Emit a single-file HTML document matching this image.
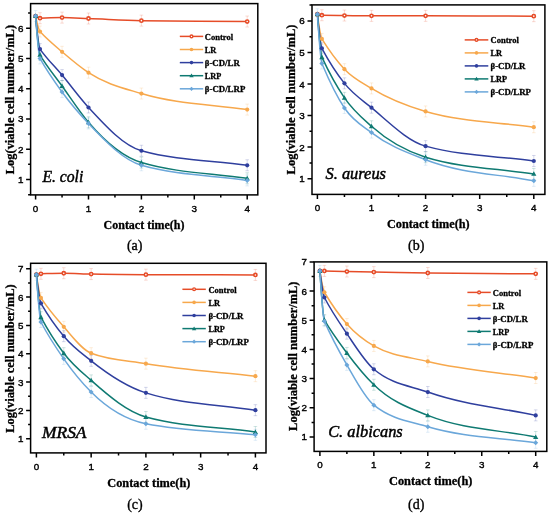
<!DOCTYPE html>
<html><head><meta charset="utf-8"><style>
html,body{margin:0;padding:0;background:#fff;width:550px;height:514px;overflow:hidden}
svg{display:block;will-change:transform}
.tl{font-family:"Liberation Sans",sans-serif;font-size:9.8px;fill:#000;stroke:#000;stroke-width:0.4px}
.lg{font-family:"Liberation Serif",serif;font-size:9.2px;font-weight:bold;fill:#000;stroke:#000;stroke-width:0.3px}
.al{font-family:"Liberation Serif",serif;font-size:12.2px;font-weight:bold;fill:#000;stroke:#000;stroke-width:0.3px}
.cap{font-family:"Liberation Serif",serif;font-size:14px;fill:#000;stroke:#000;stroke-width:0.35px}
.sp{font-family:"Liberation Serif",serif;font-size:16px;font-style:italic;fill:#000;stroke:#000;stroke-width:0.45px}
</style></head><body>
<svg width="550" height="514" viewBox="0 0 550 514">
<rect width="550" height="514" fill="#fff"/>
<path d="M39.99,12.71 V23.71 M38.19,12.71 H41.79 M38.19,23.71 H41.79" stroke="#E64C28" stroke-width="0.9" fill="none" opacity="0.22"/>
<path d="M62.05,12.11 V23.11 M60.25,12.11 H63.85 M60.25,23.11 H63.85" stroke="#E64C28" stroke-width="0.9" fill="none" opacity="0.22"/>
<path d="M88.50,13.02 V24.02 M86.70,13.02 H90.30 M86.70,24.02 H90.30" stroke="#E64C28" stroke-width="0.9" fill="none" opacity="0.22"/>
<path d="M141.40,15.13 V26.13 M139.60,15.13 H143.20 M139.60,26.13 H143.20" stroke="#E64C28" stroke-width="0.9" fill="none" opacity="0.22"/>
<path d="M247.20,16.04 V27.04 M245.40,16.04 H249.00 M245.40,27.04 H249.00" stroke="#E64C28" stroke-width="0.9" fill="none" opacity="0.22"/>
<path d="M39.99,26.03 V37.03 M38.19,26.03 H41.79 M38.19,37.03 H41.79" stroke="#F7A84C" stroke-width="0.9" fill="none" opacity="0.22"/>
<path d="M62.05,46.30 V57.30 M60.25,46.30 H63.85 M60.25,57.30 H63.85" stroke="#F7A84C" stroke-width="0.9" fill="none" opacity="0.22"/>
<path d="M88.50,67.18 V78.18 M86.70,67.18 H90.30 M86.70,78.18 H90.30" stroke="#F7A84C" stroke-width="0.9" fill="none" opacity="0.22"/>
<path d="M141.40,88.06 V99.06 M139.60,88.06 H143.20 M139.60,99.06 H143.20" stroke="#F7A84C" stroke-width="0.9" fill="none" opacity="0.22"/>
<path d="M247.20,104.10 V115.10 M245.40,104.10 H249.00 M245.40,115.10 H249.00" stroke="#F7A84C" stroke-width="0.9" fill="none" opacity="0.22"/>
<path d="M39.99,43.58 V54.58 M38.19,43.58 H41.79 M38.19,54.58 H41.79" stroke="#2F3F9E" stroke-width="0.9" fill="none" opacity="0.22"/>
<path d="M62.05,69.60 V80.60 M60.25,69.60 H63.85 M60.25,80.60 H63.85" stroke="#2F3F9E" stroke-width="0.9" fill="none" opacity="0.22"/>
<path d="M88.50,101.98 V112.98 M86.70,101.98 H90.30 M86.70,112.98 H90.30" stroke="#2F3F9E" stroke-width="0.9" fill="none" opacity="0.22"/>
<path d="M141.40,145.25 V156.25 M139.60,145.25 H143.20 M139.60,156.25 H143.20" stroke="#2F3F9E" stroke-width="0.9" fill="none" opacity="0.22"/>
<path d="M247.20,159.78 V170.78 M245.40,159.78 H249.00 M245.40,170.78 H249.00" stroke="#2F3F9E" stroke-width="0.9" fill="none" opacity="0.22"/>
<path d="M39.99,49.33 V60.33 M38.19,49.33 H41.79 M38.19,60.33 H41.79" stroke="#0F7A72" stroke-width="0.9" fill="none" opacity="0.22"/>
<path d="M62.05,80.50 V91.50 M60.25,80.50 H63.85 M60.25,91.50 H63.85" stroke="#0F7A72" stroke-width="0.9" fill="none" opacity="0.22"/>
<path d="M88.50,116.81 V127.81 M86.70,116.81 H90.30 M86.70,127.81 H90.30" stroke="#0F7A72" stroke-width="0.9" fill="none" opacity="0.22"/>
<path d="M141.40,157.05 V168.05 M139.60,157.05 H143.20 M139.60,168.05 H143.20" stroke="#0F7A72" stroke-width="0.9" fill="none" opacity="0.22"/>
<path d="M247.20,172.79 V183.79 M245.40,172.79 H249.00 M245.40,183.79 H249.00" stroke="#0F7A72" stroke-width="0.9" fill="none" opacity="0.22"/>
<path d="M35.60,10.60 V21.60 M33.80,10.60 H37.40 M33.80,21.60 H37.40" stroke="#6BA7DA" stroke-width="0.9" fill="none" opacity="0.22"/>
<path d="M39.99,52.96 V63.96 M38.19,52.96 H41.79 M38.19,63.96 H41.79" stroke="#6BA7DA" stroke-width="0.9" fill="none" opacity="0.22"/>
<path d="M62.05,86.55 V97.55 M60.25,86.55 H63.85 M60.25,97.55 H63.85" stroke="#6BA7DA" stroke-width="0.9" fill="none" opacity="0.22"/>
<path d="M88.50,118.02 V129.02 M86.70,118.02 H90.30 M86.70,129.02 H90.30" stroke="#6BA7DA" stroke-width="0.9" fill="none" opacity="0.22"/>
<path d="M141.40,159.78 V170.78 M139.60,159.78 H143.20 M139.60,170.78 H143.20" stroke="#6BA7DA" stroke-width="0.9" fill="none" opacity="0.22"/>
<path d="M247.20,174.91 V185.91 M245.40,174.91 H249.00 M245.40,185.91 H249.00" stroke="#6BA7DA" stroke-width="0.9" fill="none" opacity="0.22"/>
<path d="M35.60,16.10 C37.06,17.18 38.53,18.26 39.99,18.21 C47.34,17.97 54.70,17.61 62.05,17.61 C70.87,17.61 79.68,18.20 88.50,18.52 C106.13,19.16 123.77,20.33 141.40,20.63 C176.67,21.24 211.93,21.24 247.20,21.54" stroke="#E64C28" stroke-width="1.5" fill="none" stroke-linejoin="round"/>
<path d="M35.60,16.10 C37.06,23.01 38.53,29.91 39.99,31.53 C47.34,39.64 54.70,45.48 62.05,51.80 C70.87,59.39 79.68,66.88 88.50,72.68 C106.13,84.28 123.77,88.22 141.40,93.56 C176.67,104.25 211.93,104.25 247.20,109.60" stroke="#F7A84C" stroke-width="1.5" fill="none" stroke-linejoin="round"/>
<path d="M35.60,16.10 C37.06,31.55 38.53,47.01 39.99,49.08 C47.34,59.49 54.70,66.28 62.05,75.10 C70.87,85.68 79.68,97.88 88.50,107.48 C106.13,126.68 123.77,145.91 141.40,150.75 C176.67,160.44 211.93,160.44 247.20,165.28" stroke="#2F3F9E" stroke-width="1.5" fill="none" stroke-linejoin="round"/>
<path d="M35.60,16.10 C37.06,34.22 38.53,52.35 39.99,54.83 C47.34,67.30 54.70,75.74 62.05,86.00 C70.87,98.29 79.68,112.00 88.50,122.31 C106.13,142.92 123.77,157.31 141.40,162.55 C176.67,173.04 211.93,173.04 247.20,178.29" stroke="#0F7A72" stroke-width="1.5" fill="none" stroke-linejoin="round"/>
<path d="M35.60,16.10 C37.06,35.94 38.53,55.79 39.99,58.46 C47.34,71.90 54.70,81.97 62.05,92.05 C70.87,104.14 79.68,114.21 88.50,123.52 C106.13,142.15 123.77,160.23 141.40,165.28 C176.67,175.36 211.93,175.36 247.20,180.41" stroke="#6BA7DA" stroke-width="1.5" fill="none" stroke-linejoin="round"/>
<circle cx="35.60" cy="16.10" r="1.60" fill="#fff" stroke="#E64C28" stroke-width="1.60"/>
<circle cx="39.99" cy="18.21" r="1.60" fill="#fff" stroke="#E64C28" stroke-width="1.60"/>
<circle cx="62.05" cy="17.61" r="1.60" fill="#fff" stroke="#E64C28" stroke-width="1.60"/>
<circle cx="88.50" cy="18.52" r="1.60" fill="#fff" stroke="#E64C28" stroke-width="1.60"/>
<circle cx="141.40" cy="20.63" r="1.60" fill="#fff" stroke="#E64C28" stroke-width="1.60"/>
<circle cx="247.20" cy="21.54" r="1.60" fill="#fff" stroke="#E64C28" stroke-width="1.60"/>
<circle cx="35.60" cy="16.10" r="2.10" fill="#F7A84C"/>
<circle cx="39.99" cy="31.53" r="2.10" fill="#F7A84C"/>
<circle cx="62.05" cy="51.80" r="2.10" fill="#F7A84C"/>
<circle cx="88.50" cy="72.68" r="2.10" fill="#F7A84C"/>
<circle cx="141.40" cy="93.56" r="2.10" fill="#F7A84C"/>
<circle cx="247.20" cy="109.60" r="2.10" fill="#F7A84C"/>
<circle cx="35.60" cy="16.10" r="2.10" fill="#2F3F9E"/>
<circle cx="39.99" cy="49.08" r="2.10" fill="#2F3F9E"/>
<circle cx="62.05" cy="75.10" r="2.10" fill="#2F3F9E"/>
<circle cx="88.50" cy="107.48" r="2.10" fill="#2F3F9E"/>
<circle cx="141.40" cy="150.75" r="2.10" fill="#2F3F9E"/>
<circle cx="247.20" cy="165.28" r="2.10" fill="#2F3F9E"/>
<path d="M35.60,13.50 L38.20,18.05 L33.00,18.05 Z" fill="#0F7A72"/>
<path d="M39.99,52.23 L42.59,56.78 L37.39,56.78 Z" fill="#0F7A72"/>
<path d="M62.05,83.40 L64.65,87.95 L59.45,87.95 Z" fill="#0F7A72"/>
<path d="M88.50,119.71 L91.10,124.26 L85.90,124.26 Z" fill="#0F7A72"/>
<path d="M141.40,159.95 L144.00,164.50 L138.80,164.50 Z" fill="#0F7A72"/>
<path d="M247.20,175.69 L249.80,180.24 L244.60,180.24 Z" fill="#0F7A72"/>
<path d="M35.60,13.60 L38.10,16.10 L35.60,18.60 L33.10,16.10 Z" fill="#6BA7DA"/>
<path d="M39.99,55.96 L42.49,58.46 L39.99,60.96 L37.49,58.46 Z" fill="#6BA7DA"/>
<path d="M62.05,89.55 L64.55,92.05 L62.05,94.55 L59.55,92.05 Z" fill="#6BA7DA"/>
<path d="M88.50,121.02 L91.00,123.52 L88.50,126.02 L86.00,123.52 Z" fill="#6BA7DA"/>
<path d="M141.40,162.78 L143.90,165.28 L141.40,167.78 L138.90,165.28 Z" fill="#6BA7DA"/>
<path d="M247.20,177.91 L249.70,180.41 L247.20,182.91 L244.70,180.41 Z" fill="#6BA7DA"/>
<rect x="30.60" y="3.60" width="227.20" height="191.30" fill="none" stroke="#000" stroke-width="1.5"/>
<text x="35.60" y="211.80" class="tl" text-anchor="middle">0</text>
<text x="88.50" y="211.80" class="tl" text-anchor="middle">1</text>
<text x="141.40" y="211.80" class="tl" text-anchor="middle">2</text>
<text x="194.30" y="211.80" class="tl" text-anchor="middle">3</text>
<text x="247.20" y="211.80" class="tl" text-anchor="middle">4</text>
<text x="23.40" y="183.00" class="tl" text-anchor="end">1</text>
<text x="23.40" y="152.74" class="tl" text-anchor="end">2</text>
<text x="23.40" y="122.48" class="tl" text-anchor="end">3</text>
<text x="23.40" y="92.22" class="tl" text-anchor="end">4</text>
<text x="23.40" y="61.96" class="tl" text-anchor="end">5</text>
<text x="23.40" y="31.70" class="tl" text-anchor="end">6</text>
<path d="M35.60,194.90 V199.40 M62.05,194.90 V197.40 M88.50,194.90 V199.40 M114.95,194.90 V197.40 M141.40,194.90 V199.40 M167.85,194.90 V197.40 M194.30,194.90 V199.40 M220.75,194.90 V197.40 M247.20,194.90 V199.40 M30.60,179.50 H26.10 M30.60,149.24 H26.10 M30.60,118.98 H26.10 M30.60,88.72 H26.10 M30.60,58.46 H26.10 M30.60,28.20 H26.10 M30.60,194.63 H28.10 M30.60,164.37 H28.10 M30.60,134.11 H28.10 M30.60,103.85 H28.10 M30.60,73.59 H28.10 M30.60,43.33 H28.10 M30.60,13.07 H28.10" stroke="#000" stroke-width="1.5" fill="none"/>
<path d="M179.80,36.40 H203.20" stroke="#E64C28" stroke-width="1.5"/>
<circle cx="191.50" cy="36.40" r="1.36" fill="#fff" stroke="#E64C28" stroke-width="1.36"/>
<text x="204.80" y="39.60" class="lg" textLength="28.3" lengthAdjust="spacingAndGlyphs">Control</text>
<path d="M179.80,49.50 H203.20" stroke="#F7A84C" stroke-width="1.5"/>
<circle cx="191.50" cy="49.50" r="1.78" fill="#F7A84C"/>
<text x="204.80" y="52.70" class="lg" textLength="11.6" lengthAdjust="spacingAndGlyphs">LR</text>
<path d="M179.80,62.60 H203.20" stroke="#2F3F9E" stroke-width="1.5"/>
<circle cx="191.50" cy="62.60" r="1.78" fill="#2F3F9E"/>
<text x="204.80" y="65.80" class="lg" textLength="35.0" lengthAdjust="spacingAndGlyphs">β-CD/LR</text>
<path d="M179.80,75.70 H203.20" stroke="#0F7A72" stroke-width="1.5"/>
<path d="M191.50,73.49 L193.71,77.36 L189.29,77.36 Z" fill="#0F7A72"/>
<text x="204.80" y="78.90" class="lg" textLength="16.5" lengthAdjust="spacingAndGlyphs">LRP</text>
<path d="M179.80,88.80 H203.20" stroke="#6BA7DA" stroke-width="1.5"/>
<path d="M191.50,86.67 L193.62,88.80 L191.50,90.92 L189.38,88.80 Z" fill="#6BA7DA"/>
<text x="204.80" y="92.00" class="lg" textLength="40.5" lengthAdjust="spacingAndGlyphs">β-CD/LRP</text>
<text class="al" text-anchor="middle" textLength="149.3" lengthAdjust="spacingAndGlyphs" transform="translate(13.50,99.60) rotate(-90)">Log(viable cell number/mL)</text>
<text class="al" x="144.00" y="229.40" text-anchor="middle" textLength="80.8" lengthAdjust="spacingAndGlyphs">Contact time(h)</text>
<text class="cap" x="134.70" y="250.00" text-anchor="middle">(a)</text>
<text class="sp" x="42.40" y="181.80" textLength="40.9" lengthAdjust="spacingAndGlyphs">E. coli</text>
<path d="M321.89,9.72 V20.72 M320.09,9.72 H323.69 M320.09,20.72 H323.69" stroke="#E64C28" stroke-width="0.9" fill="none" opacity="0.22"/>
<path d="M344.45,10.04 V21.04 M342.65,10.04 H346.25 M342.65,21.04 H346.25" stroke="#E64C28" stroke-width="0.9" fill="none" opacity="0.22"/>
<path d="M371.50,10.35 V21.35 M369.70,10.35 H373.30 M369.70,21.35 H373.30" stroke="#E64C28" stroke-width="0.9" fill="none" opacity="0.22"/>
<path d="M425.60,10.35 V21.35 M423.80,10.35 H427.40 M423.80,21.35 H427.40" stroke="#E64C28" stroke-width="0.9" fill="none" opacity="0.22"/>
<path d="M533.80,10.67 V21.67 M532.00,10.67 H535.60 M532.00,21.67 H535.60" stroke="#E64C28" stroke-width="0.9" fill="none" opacity="0.22"/>
<path d="M321.89,33.38 V44.38 M320.09,33.38 H323.69 M320.09,44.38 H323.69" stroke="#F7A84C" stroke-width="0.9" fill="none" opacity="0.22"/>
<path d="M344.45,63.67 V74.67 M342.65,63.67 H346.25 M342.65,74.67 H346.25" stroke="#F7A84C" stroke-width="0.9" fill="none" opacity="0.22"/>
<path d="M371.50,82.92 V93.92 M369.70,82.92 H373.30 M369.70,93.92 H373.30" stroke="#F7A84C" stroke-width="0.9" fill="none" opacity="0.22"/>
<path d="M425.60,105.95 V116.95 M423.80,105.95 H427.40 M423.80,116.95 H427.40" stroke="#F7A84C" stroke-width="0.9" fill="none" opacity="0.22"/>
<path d="M533.80,121.72 V132.72 M532.00,121.72 H535.60 M532.00,132.72 H535.60" stroke="#F7A84C" stroke-width="0.9" fill="none" opacity="0.22"/>
<path d="M321.89,42.85 V53.85 M320.09,42.85 H323.69 M320.09,53.85 H323.69" stroke="#2F3F9E" stroke-width="0.9" fill="none" opacity="0.22"/>
<path d="M344.45,77.87 V88.87 M342.65,77.87 H346.25 M342.65,88.87 H346.25" stroke="#2F3F9E" stroke-width="0.9" fill="none" opacity="0.22"/>
<path d="M371.50,102.16 V113.16 M369.70,102.16 H373.30 M369.70,113.16 H373.30" stroke="#2F3F9E" stroke-width="0.9" fill="none" opacity="0.22"/>
<path d="M425.60,140.65 V151.65 M423.80,140.65 H427.40 M423.80,151.65 H427.40" stroke="#2F3F9E" stroke-width="0.9" fill="none" opacity="0.22"/>
<path d="M533.80,155.48 V166.48 M532.00,155.48 H535.60 M532.00,166.48 H535.60" stroke="#2F3F9E" stroke-width="0.9" fill="none" opacity="0.22"/>
<path d="M321.89,51.68 V62.68 M320.09,51.68 H323.69 M320.09,62.68 H323.69" stroke="#0F7A72" stroke-width="0.9" fill="none" opacity="0.22"/>
<path d="M344.45,92.38 V103.38 M342.65,92.38 H346.25 M342.65,103.38 H346.25" stroke="#0F7A72" stroke-width="0.9" fill="none" opacity="0.22"/>
<path d="M371.50,120.78 V131.78 M369.70,120.78 H373.30 M369.70,131.78 H373.30" stroke="#0F7A72" stroke-width="0.9" fill="none" opacity="0.22"/>
<path d="M425.60,151.70 V162.70 M423.80,151.70 H427.40 M423.80,162.70 H427.40" stroke="#0F7A72" stroke-width="0.9" fill="none" opacity="0.22"/>
<path d="M533.80,168.42 V179.42 M532.00,168.42 H535.60 M532.00,179.42 H535.60" stroke="#0F7A72" stroke-width="0.9" fill="none" opacity="0.22"/>
<path d="M317.40,8.77 V19.77 M315.60,8.77 H319.20 M315.60,19.77 H319.20" stroke="#6BA7DA" stroke-width="0.9" fill="none" opacity="0.22"/>
<path d="M321.89,57.99 V68.99 M320.09,57.99 H323.69 M320.09,68.99 H323.69" stroke="#6BA7DA" stroke-width="0.9" fill="none" opacity="0.22"/>
<path d="M344.45,102.48 V113.48 M342.65,102.48 H346.25 M342.65,113.48 H346.25" stroke="#6BA7DA" stroke-width="0.9" fill="none" opacity="0.22"/>
<path d="M371.50,127.09 V138.09 M369.70,127.09 H373.30 M369.70,138.09 H373.30" stroke="#6BA7DA" stroke-width="0.9" fill="none" opacity="0.22"/>
<path d="M425.60,154.22 V165.22 M423.80,154.22 H427.40 M423.80,165.22 H427.40" stroke="#6BA7DA" stroke-width="0.9" fill="none" opacity="0.22"/>
<path d="M533.80,175.36 V186.36 M532.00,175.36 H535.60 M532.00,186.36 H535.60" stroke="#6BA7DA" stroke-width="0.9" fill="none" opacity="0.22"/>
<path d="M317.40,14.27 C318.90,14.74 320.39,15.20 321.89,15.22 C329.41,15.35 336.93,15.44 344.45,15.54 C353.47,15.65 362.48,15.85 371.50,15.85 C389.53,15.85 407.57,15.85 425.60,15.85 C461.67,15.85 497.73,16.06 533.80,16.17" stroke="#E64C28" stroke-width="1.5" fill="none" stroke-linejoin="round"/>
<path d="M317.40,14.27 C318.90,25.37 320.39,36.47 321.89,38.88 C329.41,51.00 336.93,61.23 344.45,69.17 C353.47,78.69 362.48,82.86 371.50,88.42 C389.53,99.53 407.57,106.19 425.60,111.45 C461.67,121.97 497.73,121.97 533.80,127.22" stroke="#F7A84C" stroke-width="1.5" fill="none" stroke-linejoin="round"/>
<path d="M317.40,14.27 C318.90,29.92 320.39,45.56 321.89,48.35 C329.41,62.36 336.93,73.93 344.45,83.37 C353.47,94.68 362.48,100.13 371.50,107.66 C389.53,122.74 407.57,141.21 425.60,146.15 C461.67,156.04 497.73,156.04 533.80,160.98" stroke="#2F3F9E" stroke-width="1.5" fill="none" stroke-linejoin="round"/>
<path d="M317.40,14.27 C318.90,34.11 320.39,53.94 321.89,57.18 C329.41,73.46 336.93,86.90 344.45,97.88 C353.47,111.06 362.48,118.25 371.50,126.28 C389.53,142.33 407.57,151.62 425.60,157.20 C461.67,168.34 497.73,168.34 533.80,173.92" stroke="#0F7A72" stroke-width="1.5" fill="none" stroke-linejoin="round"/>
<path d="M317.40,14.27 C318.90,37.11 320.39,59.95 321.89,63.49 C329.41,81.29 336.93,96.78 344.45,107.98 C353.47,121.40 362.48,125.61 371.50,132.59 C389.53,146.54 407.57,152.67 425.60,159.72 C461.67,173.81 497.73,173.81 533.80,180.86" stroke="#6BA7DA" stroke-width="1.5" fill="none" stroke-linejoin="round"/>
<circle cx="317.40" cy="14.27" r="1.60" fill="#fff" stroke="#E64C28" stroke-width="1.60"/>
<circle cx="321.89" cy="15.22" r="1.60" fill="#fff" stroke="#E64C28" stroke-width="1.60"/>
<circle cx="344.45" cy="15.54" r="1.60" fill="#fff" stroke="#E64C28" stroke-width="1.60"/>
<circle cx="371.50" cy="15.85" r="1.60" fill="#fff" stroke="#E64C28" stroke-width="1.60"/>
<circle cx="425.60" cy="15.85" r="1.60" fill="#fff" stroke="#E64C28" stroke-width="1.60"/>
<circle cx="533.80" cy="16.17" r="1.60" fill="#fff" stroke="#E64C28" stroke-width="1.60"/>
<circle cx="317.40" cy="14.27" r="2.10" fill="#F7A84C"/>
<circle cx="321.89" cy="38.88" r="2.10" fill="#F7A84C"/>
<circle cx="344.45" cy="69.17" r="2.10" fill="#F7A84C"/>
<circle cx="371.50" cy="88.42" r="2.10" fill="#F7A84C"/>
<circle cx="425.60" cy="111.45" r="2.10" fill="#F7A84C"/>
<circle cx="533.80" cy="127.22" r="2.10" fill="#F7A84C"/>
<circle cx="317.40" cy="14.27" r="2.10" fill="#2F3F9E"/>
<circle cx="321.89" cy="48.35" r="2.10" fill="#2F3F9E"/>
<circle cx="344.45" cy="83.37" r="2.10" fill="#2F3F9E"/>
<circle cx="371.50" cy="107.66" r="2.10" fill="#2F3F9E"/>
<circle cx="425.60" cy="146.15" r="2.10" fill="#2F3F9E"/>
<circle cx="533.80" cy="160.98" r="2.10" fill="#2F3F9E"/>
<path d="M317.40,11.67 L320.00,16.22 L314.80,16.22 Z" fill="#0F7A72"/>
<path d="M321.89,54.58 L324.49,59.13 L319.29,59.13 Z" fill="#0F7A72"/>
<path d="M344.45,95.28 L347.05,99.83 L341.85,99.83 Z" fill="#0F7A72"/>
<path d="M371.50,123.68 L374.10,128.23 L368.90,128.23 Z" fill="#0F7A72"/>
<path d="M425.60,154.60 L428.20,159.15 L423.00,159.15 Z" fill="#0F7A72"/>
<path d="M533.80,171.32 L536.40,175.87 L531.20,175.87 Z" fill="#0F7A72"/>
<path d="M317.40,11.77 L319.90,14.27 L317.40,16.77 L314.90,14.27 Z" fill="#6BA7DA"/>
<path d="M321.89,60.99 L324.39,63.49 L321.89,65.99 L319.39,63.49 Z" fill="#6BA7DA"/>
<path d="M344.45,105.48 L346.95,107.98 L344.45,110.48 L341.95,107.98 Z" fill="#6BA7DA"/>
<path d="M371.50,130.09 L374.00,132.59 L371.50,135.09 L369.00,132.59 Z" fill="#6BA7DA"/>
<path d="M425.60,157.22 L428.10,159.72 L425.60,162.22 L423.10,159.72 Z" fill="#6BA7DA"/>
<path d="M533.80,178.36 L536.30,180.86 L533.80,183.36 L531.30,180.86 Z" fill="#6BA7DA"/>
<rect x="312.00" y="4.90" width="232.90" height="189.50" fill="none" stroke="#000" stroke-width="1.5"/>
<text x="317.40" y="211.30" class="tl" text-anchor="middle">0</text>
<text x="371.50" y="211.30" class="tl" text-anchor="middle">1</text>
<text x="425.60" y="211.30" class="tl" text-anchor="middle">2</text>
<text x="479.70" y="211.30" class="tl" text-anchor="middle">3</text>
<text x="533.80" y="211.30" class="tl" text-anchor="middle">4</text>
<text x="304.80" y="182.15" class="tl" text-anchor="end">1</text>
<text x="304.80" y="150.60" class="tl" text-anchor="end">2</text>
<text x="304.80" y="119.05" class="tl" text-anchor="end">3</text>
<text x="304.80" y="87.50" class="tl" text-anchor="end">4</text>
<text x="304.80" y="55.95" class="tl" text-anchor="end">5</text>
<text x="304.80" y="24.40" class="tl" text-anchor="end">6</text>
<path d="M317.40,194.40 V198.90 M344.45,194.40 V196.90 M371.50,194.40 V198.90 M398.55,194.40 V196.90 M425.60,194.40 V198.90 M452.65,194.40 V196.90 M479.70,194.40 V198.90 M506.75,194.40 V196.90 M533.80,194.40 V198.90 M312.00,178.65 H307.50 M312.00,147.10 H307.50 M312.00,115.55 H307.50 M312.00,84.00 H307.50 M312.00,52.45 H307.50 M312.00,20.90 H307.50 M312.00,162.88 H309.50 M312.00,131.32 H309.50 M312.00,99.78 H309.50 M312.00,68.22 H309.50 M312.00,36.67 H309.50 M312.00,5.12 H309.50" stroke="#000" stroke-width="1.5" fill="none"/>
<path d="M464.70,39.90 H488.30" stroke="#E64C28" stroke-width="1.5"/>
<circle cx="476.50" cy="39.90" r="1.36" fill="#fff" stroke="#E64C28" stroke-width="1.36"/>
<text x="490.50" y="43.10" class="lg" textLength="28.3" lengthAdjust="spacingAndGlyphs">Control</text>
<path d="M464.70,52.90 H488.30" stroke="#F7A84C" stroke-width="1.5"/>
<circle cx="476.50" cy="52.90" r="1.78" fill="#F7A84C"/>
<text x="490.50" y="56.10" class="lg" textLength="11.6" lengthAdjust="spacingAndGlyphs">LR</text>
<path d="M464.70,65.90 H488.30" stroke="#2F3F9E" stroke-width="1.5"/>
<circle cx="476.50" cy="65.90" r="1.78" fill="#2F3F9E"/>
<text x="490.50" y="69.10" class="lg" textLength="35.0" lengthAdjust="spacingAndGlyphs">β-CD/LR</text>
<path d="M464.70,78.90 H488.30" stroke="#0F7A72" stroke-width="1.5"/>
<path d="M476.50,76.69 L478.71,80.56 L474.29,80.56 Z" fill="#0F7A72"/>
<text x="490.50" y="82.10" class="lg" textLength="16.5" lengthAdjust="spacingAndGlyphs">LRP</text>
<path d="M464.70,91.90 H488.30" stroke="#6BA7DA" stroke-width="1.5"/>
<path d="M476.50,89.78 L478.62,91.90 L476.50,94.03 L474.38,91.90 Z" fill="#6BA7DA"/>
<text x="490.50" y="95.10" class="lg" textLength="40.5" lengthAdjust="spacingAndGlyphs">β-CD/LRP</text>
<text class="al" text-anchor="middle" textLength="149.9" lengthAdjust="spacingAndGlyphs" transform="translate(294.80,99.50) rotate(-90)">Log(viable cell number/mL)</text>
<text class="al" x="428.30" y="228.00" text-anchor="middle" textLength="82.6" lengthAdjust="spacingAndGlyphs">Contact time(h)</text>
<text class="cap" x="416.20" y="250.00" text-anchor="middle">(b)</text>
<text class="sp" x="325.50" y="178.80" textLength="60.5" lengthAdjust="spacingAndGlyphs">S. aureus</text>
<path d="M40.94,268.30 V279.30 M39.14,268.30 H42.74 M39.14,279.30 H42.74" stroke="#E64C28" stroke-width="0.9" fill="none" opacity="0.22"/>
<path d="M63.77,267.74 V278.74 M61.98,267.74 H65.58 M61.98,278.74 H65.58" stroke="#E64C28" stroke-width="0.9" fill="none" opacity="0.22"/>
<path d="M91.15,268.59 V279.59 M89.35,268.59 H92.95 M89.35,279.59 H92.95" stroke="#E64C28" stroke-width="0.9" fill="none" opacity="0.22"/>
<path d="M145.90,269.15 V280.15 M144.10,269.15 H147.70 M144.10,280.15 H147.70" stroke="#E64C28" stroke-width="0.9" fill="none" opacity="0.22"/>
<path d="M255.40,269.44 V280.44 M253.60,269.44 H257.20 M253.60,280.44 H257.20" stroke="#E64C28" stroke-width="0.9" fill="none" opacity="0.22"/>
<path d="M40.94,292.40 V303.40 M39.14,292.40 H42.74 M39.14,303.40 H42.74" stroke="#F7A84C" stroke-width="0.9" fill="none" opacity="0.22"/>
<path d="M63.77,321.32 V332.32 M61.98,321.32 H65.58 M61.98,332.32 H65.58" stroke="#F7A84C" stroke-width="0.9" fill="none" opacity="0.22"/>
<path d="M91.15,347.68 V358.68 M89.35,347.68 H92.95 M89.35,358.68 H92.95" stroke="#F7A84C" stroke-width="0.9" fill="none" opacity="0.22"/>
<path d="M145.90,358.17 V369.17 M144.10,358.17 H147.70 M144.10,369.17 H147.70" stroke="#F7A84C" stroke-width="0.9" fill="none" opacity="0.22"/>
<path d="M255.40,370.65 V381.65 M253.60,370.65 H257.20 M253.60,381.65 H257.20" stroke="#F7A84C" stroke-width="0.9" fill="none" opacity="0.22"/>
<path d="M40.94,297.79 V308.79 M39.14,297.79 H42.74 M39.14,308.79 H42.74" stroke="#2F3F9E" stroke-width="0.9" fill="none" opacity="0.22"/>
<path d="M63.77,330.67 V341.67 M61.98,330.67 H65.58 M61.98,341.67 H65.58" stroke="#2F3F9E" stroke-width="0.9" fill="none" opacity="0.22"/>
<path d="M91.15,355.34 V366.34 M89.35,355.34 H92.95 M89.35,366.34 H92.95" stroke="#2F3F9E" stroke-width="0.9" fill="none" opacity="0.22"/>
<path d="M145.90,387.37 V398.37 M144.10,387.37 H147.70 M144.10,398.37 H147.70" stroke="#2F3F9E" stroke-width="0.9" fill="none" opacity="0.22"/>
<path d="M255.40,404.67 V415.67 M253.60,404.67 H257.20 M253.60,415.67 H257.20" stroke="#2F3F9E" stroke-width="0.9" fill="none" opacity="0.22"/>
<path d="M40.94,311.68 V322.68 M39.14,311.68 H42.74 M39.14,322.68 H42.74" stroke="#0F7A72" stroke-width="0.9" fill="none" opacity="0.22"/>
<path d="M63.77,347.68 V358.68 M61.98,347.68 H65.58 M61.98,358.68 H65.58" stroke="#0F7A72" stroke-width="0.9" fill="none" opacity="0.22"/>
<path d="M91.15,374.90 V385.90 M89.35,374.90 H92.95 M89.35,385.90 H92.95" stroke="#0F7A72" stroke-width="0.9" fill="none" opacity="0.22"/>
<path d="M145.90,411.47 V422.47 M144.10,411.47 H147.70 M144.10,422.47 H147.70" stroke="#0F7A72" stroke-width="0.9" fill="none" opacity="0.22"/>
<path d="M255.40,426.50 V437.50 M253.60,426.50 H257.20 M253.60,437.50 H257.20" stroke="#0F7A72" stroke-width="0.9" fill="none" opacity="0.22"/>
<path d="M36.40,269.15 V280.15 M34.60,269.15 H38.20 M34.60,280.15 H38.20" stroke="#6BA7DA" stroke-width="0.9" fill="none" opacity="0.22"/>
<path d="M40.94,316.50 V327.50 M39.14,316.50 H42.74 M39.14,327.50 H42.74" stroke="#6BA7DA" stroke-width="0.9" fill="none" opacity="0.22"/>
<path d="M63.77,353.35 V364.35 M61.98,353.35 H65.58 M61.98,364.35 H65.58" stroke="#6BA7DA" stroke-width="0.9" fill="none" opacity="0.22"/>
<path d="M91.15,386.52 V397.52 M89.35,386.52 H92.95 M89.35,397.52 H92.95" stroke="#6BA7DA" stroke-width="0.9" fill="none" opacity="0.22"/>
<path d="M145.90,418.27 V429.27 M144.10,418.27 H147.70 M144.10,429.27 H147.70" stroke="#6BA7DA" stroke-width="0.9" fill="none" opacity="0.22"/>
<path d="M255.40,429.33 V440.33 M253.60,429.33 H257.20 M253.60,440.33 H257.20" stroke="#6BA7DA" stroke-width="0.9" fill="none" opacity="0.22"/>
<path d="M36.40,274.65 C37.91,274.25 39.43,273.85 40.94,273.80 C48.55,273.58 56.16,273.24 63.77,273.24 C72.90,273.24 82.03,273.90 91.15,274.09 C109.40,274.46 127.65,274.56 145.90,274.65 C182.40,274.84 218.90,274.84 255.40,274.94" stroke="#E64C28" stroke-width="1.5" fill="none" stroke-linejoin="round"/>
<path d="M36.40,274.65 C37.91,285.13 39.43,295.60 40.94,297.90 C48.55,309.47 56.16,318.23 63.77,326.82 C72.90,337.12 82.03,349.69 91.15,353.18 C109.40,360.18 127.65,360.65 145.90,363.67 C182.40,369.72 218.90,371.99 255.40,376.15" stroke="#F7A84C" stroke-width="1.5" fill="none" stroke-linejoin="round"/>
<path d="M36.40,274.65 C37.91,287.66 39.43,300.67 40.94,303.29 C48.55,316.44 56.16,327.08 63.77,336.17 C72.90,347.08 82.03,353.58 91.15,360.84 C109.40,375.36 127.65,387.11 145.90,392.87 C182.40,404.40 218.90,404.40 255.40,410.17" stroke="#2F3F9E" stroke-width="1.5" fill="none" stroke-linejoin="round"/>
<path d="M36.40,274.65 C37.91,294.48 39.43,314.31 40.94,317.18 C48.55,331.58 56.16,343.20 63.77,353.18 C72.90,365.15 82.03,372.32 91.15,380.40 C109.40,396.56 127.65,411.96 145.90,416.97 C182.40,426.99 218.90,426.99 255.40,432.00" stroke="#0F7A72" stroke-width="1.5" fill="none" stroke-linejoin="round"/>
<path d="M36.40,274.65 C37.91,296.86 39.43,319.06 40.94,322.00 C48.55,336.74 56.16,347.96 63.77,358.85 C72.90,371.91 82.03,382.89 91.15,392.02 C109.40,410.29 127.65,420.09 145.90,423.77 C182.40,431.15 218.90,431.15 255.40,434.83" stroke="#6BA7DA" stroke-width="1.5" fill="none" stroke-linejoin="round"/>
<circle cx="36.40" cy="274.65" r="1.60" fill="#fff" stroke="#E64C28" stroke-width="1.60"/>
<circle cx="40.94" cy="273.80" r="1.60" fill="#fff" stroke="#E64C28" stroke-width="1.60"/>
<circle cx="63.77" cy="273.24" r="1.60" fill="#fff" stroke="#E64C28" stroke-width="1.60"/>
<circle cx="91.15" cy="274.09" r="1.60" fill="#fff" stroke="#E64C28" stroke-width="1.60"/>
<circle cx="145.90" cy="274.65" r="1.60" fill="#fff" stroke="#E64C28" stroke-width="1.60"/>
<circle cx="255.40" cy="274.94" r="1.60" fill="#fff" stroke="#E64C28" stroke-width="1.60"/>
<circle cx="36.40" cy="274.65" r="2.10" fill="#F7A84C"/>
<circle cx="40.94" cy="297.90" r="2.10" fill="#F7A84C"/>
<circle cx="63.77" cy="326.82" r="2.10" fill="#F7A84C"/>
<circle cx="91.15" cy="353.18" r="2.10" fill="#F7A84C"/>
<circle cx="145.90" cy="363.67" r="2.10" fill="#F7A84C"/>
<circle cx="255.40" cy="376.15" r="2.10" fill="#F7A84C"/>
<circle cx="36.40" cy="274.65" r="2.10" fill="#2F3F9E"/>
<circle cx="40.94" cy="303.29" r="2.10" fill="#2F3F9E"/>
<circle cx="63.77" cy="336.17" r="2.10" fill="#2F3F9E"/>
<circle cx="91.15" cy="360.84" r="2.10" fill="#2F3F9E"/>
<circle cx="145.90" cy="392.87" r="2.10" fill="#2F3F9E"/>
<circle cx="255.40" cy="410.17" r="2.10" fill="#2F3F9E"/>
<path d="M36.40,272.05 L39.00,276.60 L33.80,276.60 Z" fill="#0F7A72"/>
<path d="M40.94,314.58 L43.54,319.13 L38.34,319.13 Z" fill="#0F7A72"/>
<path d="M63.77,350.58 L66.38,355.13 L61.17,355.13 Z" fill="#0F7A72"/>
<path d="M91.15,377.80 L93.75,382.35 L88.55,382.35 Z" fill="#0F7A72"/>
<path d="M145.90,414.37 L148.50,418.92 L143.30,418.92 Z" fill="#0F7A72"/>
<path d="M255.40,429.40 L258.00,433.95 L252.80,433.95 Z" fill="#0F7A72"/>
<path d="M36.40,272.15 L38.90,274.65 L36.40,277.15 L33.90,274.65 Z" fill="#6BA7DA"/>
<path d="M40.94,319.50 L43.44,322.00 L40.94,324.50 L38.44,322.00 Z" fill="#6BA7DA"/>
<path d="M63.77,356.35 L66.28,358.85 L63.77,361.35 L61.27,358.85 Z" fill="#6BA7DA"/>
<path d="M91.15,389.52 L93.65,392.02 L91.15,394.52 L88.65,392.02 Z" fill="#6BA7DA"/>
<path d="M145.90,421.27 L148.40,423.77 L145.90,426.27 L143.40,423.77 Z" fill="#6BA7DA"/>
<path d="M255.40,432.33 L257.90,434.83 L255.40,437.33 L252.90,434.83 Z" fill="#6BA7DA"/>
<rect x="30.60" y="263.30" width="235.40" height="189.60" fill="none" stroke="#000" stroke-width="1.5"/>
<text x="36.40" y="469.80" class="tl" text-anchor="middle">0</text>
<text x="91.15" y="469.80" class="tl" text-anchor="middle">1</text>
<text x="145.90" y="469.80" class="tl" text-anchor="middle">2</text>
<text x="200.65" y="469.80" class="tl" text-anchor="middle">3</text>
<text x="255.40" y="469.80" class="tl" text-anchor="middle">4</text>
<text x="23.40" y="442.30" class="tl" text-anchor="end">1</text>
<text x="23.40" y="413.95" class="tl" text-anchor="end">2</text>
<text x="23.40" y="385.60" class="tl" text-anchor="end">3</text>
<text x="23.40" y="357.25" class="tl" text-anchor="end">4</text>
<text x="23.40" y="328.90" class="tl" text-anchor="end">5</text>
<text x="23.40" y="300.55" class="tl" text-anchor="end">6</text>
<text x="23.40" y="272.20" class="tl" text-anchor="end">7</text>
<path d="M36.40,452.90 V457.40 M63.77,452.90 V455.40 M91.15,452.90 V457.40 M118.53,452.90 V455.40 M145.90,452.90 V457.40 M173.28,452.90 V455.40 M200.65,452.90 V457.40 M228.03,452.90 V455.40 M255.40,452.90 V457.40 M30.60,438.80 H26.10 M30.60,410.45 H26.10 M30.60,382.10 H26.10 M30.60,353.75 H26.10 M30.60,325.40 H26.10 M30.60,297.05 H26.10 M30.60,268.70 H26.10 M30.60,424.62 H28.10 M30.60,396.27 H28.10 M30.60,367.93 H28.10 M30.60,339.57 H28.10 M30.60,311.23 H28.10 M30.60,282.88 H28.10" stroke="#000" stroke-width="1.5" fill="none"/>
<path d="M182.40,289.30 H205.80" stroke="#E64C28" stroke-width="1.5"/>
<circle cx="194.10" cy="289.30" r="1.36" fill="#fff" stroke="#E64C28" stroke-width="1.36"/>
<text x="208.40" y="292.50" class="lg" textLength="28.3" lengthAdjust="spacingAndGlyphs">Control</text>
<path d="M182.40,302.40 H205.80" stroke="#F7A84C" stroke-width="1.5"/>
<circle cx="194.10" cy="302.40" r="1.78" fill="#F7A84C"/>
<text x="208.40" y="305.60" class="lg" textLength="11.6" lengthAdjust="spacingAndGlyphs">LR</text>
<path d="M182.40,315.50 H205.80" stroke="#2F3F9E" stroke-width="1.5"/>
<circle cx="194.10" cy="315.50" r="1.78" fill="#2F3F9E"/>
<text x="208.40" y="318.70" class="lg" textLength="35.0" lengthAdjust="spacingAndGlyphs">β-CD/LR</text>
<path d="M182.40,328.60 H205.80" stroke="#0F7A72" stroke-width="1.5"/>
<path d="M194.10,326.39 L196.31,330.26 L191.89,330.26 Z" fill="#0F7A72"/>
<text x="208.40" y="331.80" class="lg" textLength="16.5" lengthAdjust="spacingAndGlyphs">LRP</text>
<path d="M182.40,341.70 H205.80" stroke="#6BA7DA" stroke-width="1.5"/>
<path d="M194.10,339.57 L196.23,341.70 L194.10,343.82 L191.98,341.70 Z" fill="#6BA7DA"/>
<text x="208.40" y="344.90" class="lg" textLength="40.5" lengthAdjust="spacingAndGlyphs">β-CD/LRP</text>
<text class="al" text-anchor="middle" textLength="148.5" lengthAdjust="spacingAndGlyphs" transform="translate(13.60,358.50) rotate(-90)">Log(viable cell number/mL)</text>
<text class="al" x="148.80" y="486.90" text-anchor="middle" textLength="83.1" lengthAdjust="spacingAndGlyphs">Contact time(h)</text>
<text class="cap" x="134.90" y="508.50" text-anchor="middle">(c)</text>
<text class="sp" x="42.00" y="437.90" textLength="44.5" lengthAdjust="spacingAndGlyphs">MRSA</text>
<path d="M324.38,265.45 V276.45 M322.58,265.45 H326.18 M322.58,276.45 H326.18" stroke="#E64C28" stroke-width="0.9" fill="none" opacity="0.22"/>
<path d="M346.88,266.03 V277.03 M345.07,266.03 H348.68 M345.07,277.03 H348.68" stroke="#E64C28" stroke-width="0.9" fill="none" opacity="0.22"/>
<path d="M373.85,266.61 V277.61 M372.05,266.61 H375.65 M372.05,277.61 H375.65" stroke="#E64C28" stroke-width="0.9" fill="none" opacity="0.22"/>
<path d="M427.80,267.49 V278.49 M426.00,267.49 H429.60 M426.00,278.49 H429.60" stroke="#E64C28" stroke-width="0.9" fill="none" opacity="0.22"/>
<path d="M535.70,268.36 V279.36 M533.90,268.36 H537.50 M533.90,279.36 H537.50" stroke="#E64C28" stroke-width="0.9" fill="none" opacity="0.22"/>
<path d="M324.38,286.75 V297.75 M322.58,286.75 H326.18 M322.58,297.75 H326.18" stroke="#F7A84C" stroke-width="0.9" fill="none" opacity="0.22"/>
<path d="M346.88,318.55 V329.55 M345.07,318.55 H348.68 M345.07,329.55 H348.68" stroke="#F7A84C" stroke-width="0.9" fill="none" opacity="0.22"/>
<path d="M373.85,340.44 V351.44 M372.05,340.44 H375.65 M372.05,351.44 H375.65" stroke="#F7A84C" stroke-width="0.9" fill="none" opacity="0.22"/>
<path d="M427.80,355.90 V366.90 M426.00,355.90 H429.60 M426.00,366.90 H429.60" stroke="#F7A84C" stroke-width="0.9" fill="none" opacity="0.22"/>
<path d="M535.70,372.54 V383.54 M533.90,372.54 H537.50 M533.90,383.54 H537.50" stroke="#F7A84C" stroke-width="0.9" fill="none" opacity="0.22"/>
<path d="M324.38,292.00 V303.00 M322.58,292.00 H326.18 M322.58,303.00 H326.18" stroke="#2F3F9E" stroke-width="0.9" fill="none" opacity="0.22"/>
<path d="M346.88,328.18 V339.18 M345.07,328.18 H348.68 M345.07,339.18 H348.68" stroke="#2F3F9E" stroke-width="0.9" fill="none" opacity="0.22"/>
<path d="M373.85,363.78 V374.78 M372.05,363.78 H375.65 M372.05,374.78 H375.65" stroke="#2F3F9E" stroke-width="0.9" fill="none" opacity="0.22"/>
<path d="M427.80,386.54 V397.54 M426.00,386.54 H429.60 M426.00,397.54 H429.60" stroke="#2F3F9E" stroke-width="0.9" fill="none" opacity="0.22"/>
<path d="M535.70,409.89 V420.89 M533.90,409.89 H537.50 M533.90,420.89 H537.50" stroke="#2F3F9E" stroke-width="0.9" fill="none" opacity="0.22"/>
<path d="M324.38,314.47 V325.47 M322.58,314.47 H326.18 M322.58,325.47 H326.18" stroke="#0F7A72" stroke-width="0.9" fill="none" opacity="0.22"/>
<path d="M346.88,347.44 V358.44 M345.07,347.44 H348.68 M345.07,358.44 H348.68" stroke="#0F7A72" stroke-width="0.9" fill="none" opacity="0.22"/>
<path d="M373.85,379.25 V390.25 M372.05,379.25 H375.65 M372.05,390.25 H375.65" stroke="#0F7A72" stroke-width="0.9" fill="none" opacity="0.22"/>
<path d="M427.80,409.89 V420.89 M426.00,409.89 H429.60 M426.00,420.89 H429.60" stroke="#0F7A72" stroke-width="0.9" fill="none" opacity="0.22"/>
<path d="M535.70,431.48 V442.48 M533.90,431.48 H537.50 M533.90,442.48 H537.50" stroke="#0F7A72" stroke-width="0.9" fill="none" opacity="0.22"/>
<path d="M319.90,265.45 V276.45 M318.10,265.45 H321.70 M318.10,276.45 H321.70" stroke="#6BA7DA" stroke-width="0.9" fill="none" opacity="0.22"/>
<path d="M324.38,315.64 V326.64 M322.58,315.64 H326.18 M322.58,326.64 H326.18" stroke="#6BA7DA" stroke-width="0.9" fill="none" opacity="0.22"/>
<path d="M346.88,359.41 V370.41 M345.07,359.41 H348.68 M345.07,370.41 H348.68" stroke="#6BA7DA" stroke-width="0.9" fill="none" opacity="0.22"/>
<path d="M373.85,399.67 V410.67 M372.05,399.67 H375.65 M372.05,410.67 H375.65" stroke="#6BA7DA" stroke-width="0.9" fill="none" opacity="0.22"/>
<path d="M427.80,421.27 V432.27 M426.00,421.27 H429.60 M426.00,432.27 H429.60" stroke="#6BA7DA" stroke-width="0.9" fill="none" opacity="0.22"/>
<path d="M535.70,437.32 V448.32 M533.90,437.32 H537.50 M533.90,448.32 H537.50" stroke="#6BA7DA" stroke-width="0.9" fill="none" opacity="0.22"/>
<path d="M319.90,270.95 C321.39,270.92 322.89,270.90 324.38,270.95 C331.88,271.18 339.38,271.35 346.88,271.53 C355.87,271.75 364.86,271.93 373.85,272.11 C391.83,272.47 409.82,272.75 427.80,272.99 C463.77,273.47 499.73,273.57 535.70,273.86" stroke="#E64C28" stroke-width="1.5" fill="none" stroke-linejoin="round"/>
<path d="M319.90,270.95 C321.39,280.33 322.89,289.71 324.38,292.25 C331.88,304.97 339.38,315.51 346.88,324.05 C355.87,334.30 364.86,340.78 373.85,345.94 C391.83,356.25 409.82,357.04 427.80,361.40 C463.77,370.13 499.73,372.49 535.70,378.04" stroke="#F7A84C" stroke-width="1.5" fill="none" stroke-linejoin="round"/>
<path d="M319.90,270.95 C321.39,282.78 322.89,294.62 324.38,297.50 C331.88,311.97 339.38,322.61 346.88,333.68 C355.87,346.96 364.86,361.70 373.85,369.28 C391.83,384.46 409.82,385.69 427.80,392.04 C463.77,404.75 499.73,407.61 535.70,415.39" stroke="#2F3F9E" stroke-width="1.5" fill="none" stroke-linejoin="round"/>
<path d="M319.90,270.95 C321.39,294.14 322.89,317.34 324.38,319.97 C331.88,333.16 339.38,342.93 346.88,352.94 C355.87,364.95 364.86,375.98 373.85,384.75 C391.83,402.29 409.82,408.19 427.80,415.39 C463.77,429.78 499.73,429.78 535.70,436.98" stroke="#0F7A72" stroke-width="1.5" fill="none" stroke-linejoin="round"/>
<path d="M319.90,270.95 C321.39,294.30 322.89,317.65 324.38,321.14 C331.88,338.64 339.38,351.86 346.88,364.91 C355.87,380.55 364.86,397.98 373.85,405.17 C391.83,419.57 409.82,421.42 427.80,426.77 C463.77,437.47 499.73,437.47 535.70,442.82" stroke="#6BA7DA" stroke-width="1.5" fill="none" stroke-linejoin="round"/>
<circle cx="319.90" cy="270.95" r="1.60" fill="#fff" stroke="#E64C28" stroke-width="1.60"/>
<circle cx="324.38" cy="270.95" r="1.60" fill="#fff" stroke="#E64C28" stroke-width="1.60"/>
<circle cx="346.88" cy="271.53" r="1.60" fill="#fff" stroke="#E64C28" stroke-width="1.60"/>
<circle cx="373.85" cy="272.11" r="1.60" fill="#fff" stroke="#E64C28" stroke-width="1.60"/>
<circle cx="427.80" cy="272.99" r="1.60" fill="#fff" stroke="#E64C28" stroke-width="1.60"/>
<circle cx="535.70" cy="273.86" r="1.60" fill="#fff" stroke="#E64C28" stroke-width="1.60"/>
<circle cx="319.90" cy="270.95" r="2.10" fill="#F7A84C"/>
<circle cx="324.38" cy="292.25" r="2.10" fill="#F7A84C"/>
<circle cx="346.88" cy="324.05" r="2.10" fill="#F7A84C"/>
<circle cx="373.85" cy="345.94" r="2.10" fill="#F7A84C"/>
<circle cx="427.80" cy="361.40" r="2.10" fill="#F7A84C"/>
<circle cx="535.70" cy="378.04" r="2.10" fill="#F7A84C"/>
<circle cx="319.90" cy="270.95" r="2.10" fill="#2F3F9E"/>
<circle cx="324.38" cy="297.50" r="2.10" fill="#2F3F9E"/>
<circle cx="346.88" cy="333.68" r="2.10" fill="#2F3F9E"/>
<circle cx="373.85" cy="369.28" r="2.10" fill="#2F3F9E"/>
<circle cx="427.80" cy="392.04" r="2.10" fill="#2F3F9E"/>
<circle cx="535.70" cy="415.39" r="2.10" fill="#2F3F9E"/>
<path d="M319.90,268.35 L322.50,272.90 L317.30,272.90 Z" fill="#0F7A72"/>
<path d="M324.38,317.37 L326.98,321.92 L321.78,321.92 Z" fill="#0F7A72"/>
<path d="M346.88,350.34 L349.48,354.89 L344.27,354.89 Z" fill="#0F7A72"/>
<path d="M373.85,382.15 L376.45,386.70 L371.25,386.70 Z" fill="#0F7A72"/>
<path d="M427.80,412.79 L430.40,417.34 L425.20,417.34 Z" fill="#0F7A72"/>
<path d="M535.70,434.38 L538.30,438.93 L533.10,438.93 Z" fill="#0F7A72"/>
<path d="M319.90,268.45 L322.40,270.95 L319.90,273.45 L317.40,270.95 Z" fill="#6BA7DA"/>
<path d="M324.38,318.64 L326.88,321.14 L324.38,323.64 L321.88,321.14 Z" fill="#6BA7DA"/>
<path d="M346.88,362.41 L349.38,364.91 L346.88,367.41 L344.38,364.91 Z" fill="#6BA7DA"/>
<path d="M373.85,402.67 L376.35,405.17 L373.85,407.67 L371.35,405.17 Z" fill="#6BA7DA"/>
<path d="M427.80,424.27 L430.30,426.77 L427.80,429.27 L425.30,426.77 Z" fill="#6BA7DA"/>
<path d="M535.70,440.32 L538.20,442.82 L535.70,445.32 L533.20,442.82 Z" fill="#6BA7DA"/>
<rect x="314.10" y="261.90" width="232.70" height="189.50" fill="none" stroke="#000" stroke-width="1.5"/>
<text x="319.90" y="468.30" class="tl" text-anchor="middle">0</text>
<text x="373.85" y="468.30" class="tl" text-anchor="middle">1</text>
<text x="427.80" y="468.30" class="tl" text-anchor="middle">2</text>
<text x="481.75" y="468.30" class="tl" text-anchor="middle">3</text>
<text x="535.70" y="468.30" class="tl" text-anchor="middle">4</text>
<text x="306.90" y="440.48" class="tl" text-anchor="end">1</text>
<text x="306.90" y="411.30" class="tl" text-anchor="end">2</text>
<text x="306.90" y="382.12" class="tl" text-anchor="end">3</text>
<text x="306.90" y="352.94" class="tl" text-anchor="end">4</text>
<text x="306.90" y="323.76" class="tl" text-anchor="end">5</text>
<text x="306.90" y="294.58" class="tl" text-anchor="end">6</text>
<text x="306.90" y="265.40" class="tl" text-anchor="end">7</text>
<path d="M319.90,451.40 V455.90 M346.88,451.40 V453.90 M373.85,451.40 V455.90 M400.82,451.40 V453.90 M427.80,451.40 V455.90 M454.77,451.40 V453.90 M481.75,451.40 V455.90 M508.73,451.40 V453.90 M535.70,451.40 V455.90 M314.10,436.98 H309.60 M314.10,407.80 H309.60 M314.10,378.62 H309.60 M314.10,349.44 H309.60 M314.10,320.26 H309.60 M314.10,291.08 H309.60 M314.10,261.90 H309.60 M314.10,422.39 H311.60 M314.10,393.21 H311.60 M314.10,364.03 H311.60 M314.10,334.85 H311.60 M314.10,305.67 H311.60 M314.10,276.49 H311.60" stroke="#000" stroke-width="1.5" fill="none"/>
<path d="M467.40,292.40 H490.80" stroke="#E64C28" stroke-width="1.5"/>
<circle cx="479.10" cy="292.40" r="1.36" fill="#fff" stroke="#E64C28" stroke-width="1.36"/>
<text x="492.80" y="295.60" class="lg" textLength="28.3" lengthAdjust="spacingAndGlyphs">Control</text>
<path d="M467.40,305.40 H490.80" stroke="#F7A84C" stroke-width="1.5"/>
<circle cx="479.10" cy="305.40" r="1.78" fill="#F7A84C"/>
<text x="492.80" y="308.60" class="lg" textLength="11.6" lengthAdjust="spacingAndGlyphs">LR</text>
<path d="M467.40,318.40 H490.80" stroke="#2F3F9E" stroke-width="1.5"/>
<circle cx="479.10" cy="318.40" r="1.78" fill="#2F3F9E"/>
<text x="492.80" y="321.60" class="lg" textLength="35.0" lengthAdjust="spacingAndGlyphs">β-CD/LR</text>
<path d="M467.40,331.40 H490.80" stroke="#0F7A72" stroke-width="1.5"/>
<path d="M479.10,329.19 L481.31,333.06 L476.89,333.06 Z" fill="#0F7A72"/>
<text x="492.80" y="334.60" class="lg" textLength="16.5" lengthAdjust="spacingAndGlyphs">LRP</text>
<path d="M467.40,344.40 H490.80" stroke="#6BA7DA" stroke-width="1.5"/>
<path d="M479.10,342.27 L481.23,344.40 L479.10,346.52 L476.98,344.40 Z" fill="#6BA7DA"/>
<text x="492.80" y="347.60" class="lg" textLength="40.5" lengthAdjust="spacingAndGlyphs">β-CD/LRP</text>
<text class="al" text-anchor="middle" textLength="149.4" lengthAdjust="spacingAndGlyphs" transform="translate(297.00,356.20) rotate(-90)">Log(viable cell number/mL)</text>
<text class="al" x="430.70" y="485.40" text-anchor="middle" textLength="83.4" lengthAdjust="spacingAndGlyphs">Contact time(h)</text>
<text class="cap" x="416.20" y="509.00" text-anchor="middle">(d)</text>
<text class="sp" x="328.20" y="437.10" textLength="74.5" lengthAdjust="spacingAndGlyphs">C. albicans</text>
</svg></body></html>
